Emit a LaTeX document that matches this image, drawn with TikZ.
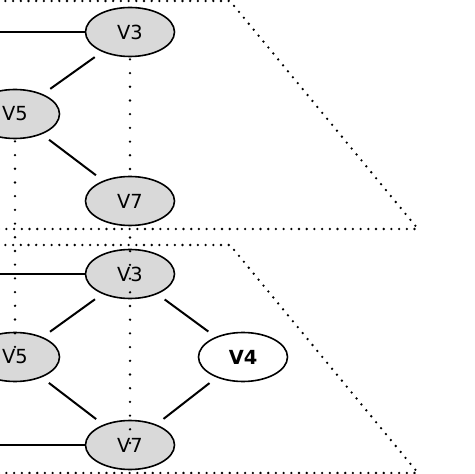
\documentclass[tikz,border=0pt]{standalone}
\usepackage{fontspec}
\setmainfont{DejaVu Sans}
\usetikzlibrary{shapes.geometric}
\pgfdeclarelayer{lower}
\pgfdeclarelayer{mid}
\pgfsetlayers{lower,mid,main}
\tikzset{
  vertex/.style={draw, ellipse, line width=0.8pt, fill=gray!30, minimum width=44.5pt,
    minimum height=24.5pt, inner sep=0pt, font=\fontsize{9.7}{11}\selectfont},
  free/.style={vertex, fill=white, font=\fontsize{9.7}{11}\selectfont\bfseries},
  edge/.style={line width=1pt, shorten >=4.5pt, shorten <=4.5pt},
  plain/.style={line width=1pt},
  plane/.style={line width=1.3pt, dash pattern=on 0pt off 3.85pt, line cap=round},
  link/.style={line width=1.3pt, dash pattern=on 0pt off 6.85pt, line cap=round},
}
\begin{document}
\begin{tikzpicture}[x=0.5pt, y=-0.5pt]
            \useasboundingbox (0,0) rectangle (474,474);
            \clip (0,0) rectangle (474,474);

            % lower plane
            \begin{pgfonlayer}{lower}
            \draw[plane] (-10,245) -- (230,245) -- (418,473) -- (-10,473);
            \node[vertex] (b3) at (130,274) {V3};
            \node[vertex] (b5) at (15,357) {V5};
            \node[free] (b4) at (243,357) {V4};
            \node[vertex] (b7) at (130,445) {V7};
            \coordinate (bl1) at (-10,274);
            \coordinate (bl2) at (-10,445);
            \end{pgfonlayer}

            \draw[plain] (bl1) -- (b3);
            \draw[plain] (bl2) -- (b7);
            \draw[edge] (b3) -- (b5);
            \draw[edge] (b3) -- (b4);
            \draw[edge] (b5) -- (b7);
            \draw[edge] (b4) -- (b7);

            % upper plane
            \draw[plane] (-10,1) -- (230,1) -- (418,229) -- (-10,229);
            \node[vertex] (t3) at (130,32) {V3};
            \node[vertex] (t5) at (15,114) {V5};
            \node[vertex] (t7) at (130,201) {V7};
            \coordinate (tl1) at (-10,32);

            \draw[plain] (tl1) -- (t3);
            \draw[edge] (t3) -- (t5);
            \draw[edge] (t5) -- (t7);

            % links between the planes
            \begin{pgfonlayer}{mid}
            \draw[link] (t5.center) -- (b5.center);
            \draw[link] (t3.center) -- (b7.center);
            \end{pgfonlayer}
\end{tikzpicture}
\end{document}
